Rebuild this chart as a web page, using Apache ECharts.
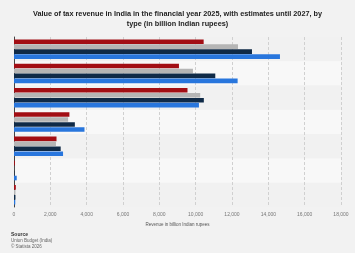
<!DOCTYPE html>
<html><head><meta charset="utf-8">
<script src="https://cdn.jsdelivr.net/npm/echarts@6/dist/echarts.min.js"></script>
<style>html,body{margin:0;padding:0;background:#f2f2f2}#c{width:355px;height:253px}</style>
</head><body><div id="c"></div>
<script>
const categories = ["Income tax", "Corporation tax", "GST", "Customs", "Union excise duties", "Service tax", "Other taxes"];
const seriesNames = ["FY 2024", "FY 2025", "FY 2026", "FY 2027"];
const s2024 = [10440, 9080, 9550, 3050, 2340, 50, 100];
const s2025 = [12330, 9850, 10250, 2980, 2310, 5, 80];
const s2026 = [13100, 11080, 10450, 3350, 2570, 20, 80];
const s2027 = [14640, 12310, 10180, 3880, 2700, 150, 70];
const xTicks = [0, 2000, 4000, 6000, 8000, 10000, 12000, 14000, 16000, 18000];
const colors = ["#a20e14", "#b5b5b5", "#0f2a47", "#2876dd"];
const values = [s2024, s2025, s2026, s2027];

const chart = echarts.init(document.getElementById('c'));
chart.setOption({
  backgroundColor: '#f2f2f2',
  animation: false,
  textStyle: {fontFamily: 'Liberation Sans'},
  title: {
    text: 'Value of tax revenue in India in the financial year 2025, with estimates until 2027, by\ntype (in billion Indian rupees)',
    left: 'center', top: 4,
    textStyle: {fontSize: 7.3, fontWeight: 'bold', color: '#222', lineHeight: 10, fontFamily: 'Liberation Sans'}
  },
  grid: {left: 14, right: 14, top: 37, bottom: 46, containLabel: false},
  xAxis: {
    type: 'value', min: xTicks[0], max: xTicks[xTicks.length - 1], interval: 2000,
    name: 'Revenue in billion Indian rupees', nameLocation: 'middle', nameGap: 10,
    nameTextStyle: {fontSize: 4.5, color: '#555'},
    axisLine: {show: false}, axisTick: {show: false},
    axisLabel: {fontSize: 5, color: '#777', margin: 5,
      formatter: v => v.toLocaleString('en-US')},
    splitLine: {show: true, lineStyle: {color: '#d0d0d0', type: [3, 2], width: 1}}
  },
  yAxis: {
    type: 'category', data: categories, inverse: true,
    axisLine: {show: true, lineStyle: {color: '#444', width: 1}},
    axisTick: {show: false}, axisLabel: {show: false},
    splitArea: {show: true, areaStyle: {color: ['#f1f1f1', '#f8f8f8']}}
  },
  series: values.map((d, i) => ({
    name: seriesNames[i], type: 'bar', data: d,
    barWidth: 4.6, barGap: '8%',
    itemStyle: {color: colors[i]}
  })),
  graphic: [
    {type: 'text', left: 11, top: 232, style: {text: 'Source', font: 'bold 5px Liberation Sans', fill: '#333'}},
    {type: 'text', left: 11, top: 238, style: {text: 'Union Budget (India)', font: '4.5px Liberation Sans', fill: '#666'}},
    {type: 'text', left: 11, top: 244, style: {text: '© Statista 2026', font: '4.5px Liberation Sans', fill: '#666'}}
  ]
});
</script></body></html>
